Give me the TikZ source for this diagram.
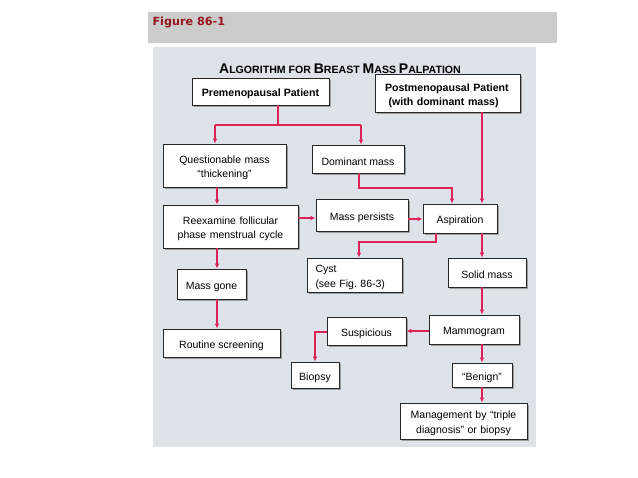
\documentclass[tikz,border=0pt]{standalone}
\usepackage{fontspec}
\setmainfont{Liberation Sans}
\newfontfamily\verdfont{DejaVu Sans}
\usetikzlibrary{arrows.meta,shadows,calc}
\definecolor{conn}{RGB}{221,34,86}
\definecolor{panel}{RGB}{221,227,233}
\definecolor{band}{RGB}{204,204,204}
\definecolor{figred}{RGB}{150,20,30}
\newcommand{\bigc}[1]{{\fontsize{14}{16}\selectfont #1}}
\newcommand{\smc}[1]{{\fontsize{10.6}{12}\selectfont #1}}
\begin{document}
\frenchspacing
\begin{tikzpicture}[x=1pt,y=-1pt,
  box/.style={draw=black!85,line width=0.8pt,fill=white,inner sep=2pt,
    font=\fontsize{10.5}{14.5}\selectfont,align=center,
    execute at begin node={\rule{0pt}{12.6pt}},
    drop shadow={shadow xshift=1.6pt,shadow yshift=-1.6pt,fill=black!50,opacity=0.7}},
  line/.style={draw=conn,line width=1.3pt},
  arr/.style={line,-{Latex[length=5pt,width=4.5pt]}},
  sz/.style 2 args={minimum width=#1pt,minimum height=#2pt}]
\useasboundingbox (0,0) rectangle (638,478);
\fill[white] (0,0) rectangle (638,478);
% header band
\fill[band] (148,12) rectangle (557,43);
\node[anchor=west,font=\verdfont\bfseries\fontsize{11.2}{13}\selectfont,text=figred] (fig) at (149,22.5) {Figure 86-1};
% panel
\fill[panel] (153,47) rectangle (536,447);
\node[font=\bfseries] (title) at (340,69) {\bigc{A}\smc{LGORITHM FOR} \bigc{B}\smc{REAST} \bigc{M}\smc{ASS} \bigc{P}\smc{ALPATION}};
% boxes
\node[box,sz={137}{27},font=\bfseries\fontsize{10.6}{14}\selectfont] (pre) at (260.5,91.5) {Premenopausal Patient};
\node[box,sz={145}{38},text width=125pt,font=\bfseries\fontsize{10.6}{14}\selectfont,align=left] (post) at (447.5,93) {Postmenopausal Patient\\\ (with dominant mass)};
\node[box,sz={123}{43},text width=115pt] (quest) at (224.5,165.5) {Questionable mass\hspace*{6pt}\\``thickening''\hspace*{4pt}};
\node[box,sz={92}{28}] (dom) at (358,159) {Dominant mass};
\node[box,sz={135}{43},text width=128pt] (reex) at (230.5,226.5) {Reexamine follicular\\phase menstrual cycle};
\node[box,sz={92}{32}] (pers) at (362,215) {Mass persists};
\node[box,sz={74}{29}] (asp) at (460,218.5) {Aspiration};
\node[box,sz={95}{34},align=left,text width=78pt] (cyst) at (354.5,275) {Cyst\\(see Fig. 86-3)};
\node[box,sz={78}{29}] (solid) at (487,272.5) {Solid mass};
\node[box,sz={69}{30}] (gone) at (211.5,284) {Mass gone};
\node[box,sz={117}{28}] (rout) at (221.5,343) {Routine screening};
\node[box,sz={79}{28}] (susp) at (366.5,331) {Suspicious};
\node[box,sz={90}{29}] (mamm) at (474,329.5) {Mammogram};
\node[box,sz={48}{26}] (biop) at (315,375) {Biopsy};
\node[box,sz={60}{24}] (benign) at (482,375) {``Benign''};
\node[box,sz={127}{36},text width=120pt] (mgmt) at (463.5,421) {Management by ``triple\\diagnosis'' or biopsy};
% helper coordinates
\coordinate (j1) at (278,125);
\coordinate (jq) at (215,125);
\coordinate (jd) at (361,125);
\coordinate (xp) at (482,0);
\coordinate (xl) at (217,0);
\coordinate (c1) at (359,188);
\coordinate (c2) at (452,188);
\coordinate (a1) at (436,242);
\coordinate (a2) at (359,242);
\coordinate (s1) at (315,332);
\coordinate (yr) at (0,218);
\coordinate (yp) at (0,219);
\coordinate (ym) at (0,331);
% connectors
\draw[line] (pre.south -| j1) -- (j1);
\draw[line] (jq) -- (jd);
\draw[arr] (jq) -- (quest.north -| jq);
\draw[arr] (jd) -- (dom.north -| jd);
\draw[arr] (post.south -| xp) -- (asp.north -| xp);
\draw[arr] (dom.south -| c1) -- (c1) -- (c2) -- (asp.north -| c2);
\draw[arr] (quest.south -| xl) -- (reex.north -| xl);
\draw[arr] (reex.east |- yr) -- (pers.west |- yr);
\draw[arr] (pers.east |- yp) -- (asp.west |- yp);
\draw[arr] (asp.south -| a1) -- (a1) -- (a2) -- (cyst.north -| a2);
\draw[arr] (asp.south -| xp) -- (solid.north -| xp);
\draw[arr] (reex.south -| xl) -- (gone.north -| xl);
\draw[arr] (gone.south -| xl) -- (rout.north -| xl);
\draw[arr] (solid.south -| xp) -- (mamm.north -| xp);
\draw[arr] (mamm.west |- ym) -- (susp.east |- ym);
\draw[arr] (susp.west |- s1) -- (s1) -- (biop.north -| s1);
\draw[arr] (mamm.south -| xp) -- (benign.north -| xp);
\draw[arr] (benign.south -| xp) -- (mgmt.north -| xp);
\end{tikzpicture}
\end{document}
